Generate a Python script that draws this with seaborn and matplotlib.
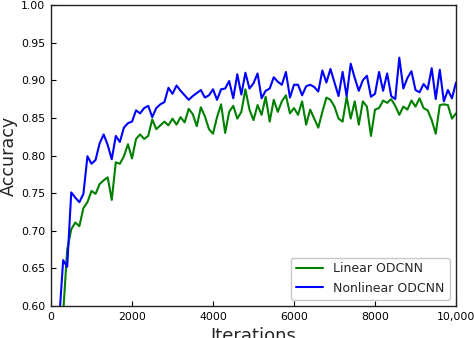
import matplotlib
matplotlib.use("Agg")
import matplotlib.pyplot as plt
import seaborn as sns
import pandas as pd

iterations = [200, 300, 400, 500, 600, 700, 800, 900, 1000, 1100, 1200, 1300, 1400, 1500,
              1600, 1700, 1800, 1900, 2000, 2100, 2200, 2300, 2400, 2500, 2600, 2700, 2800,
              2900, 3000, 3100, 3200, 3300, 3400, 3500, 3600, 3700, 3800, 3900, 4000, 4100,
              4200, 4300, 4400, 4500, 4600, 4700, 4800, 4900, 5000, 5100, 5200, 5300, 5400,
              5500, 5600, 5700, 5800, 5900, 6000, 6100, 6200, 6300, 6400, 6500, 6600, 6700,
              6800, 6900, 7000, 7100, 7200, 7300, 7400, 7500, 7600, 7700, 7800, 7900, 8000,
              8100, 8200, 8300, 8400, 8500, 8600, 8700, 8800, 8900, 9000, 9100, 9200, 9300,
              9400, 9500, 9600, 9700, 9800, 9900, 10000]

linear_acc = [0.550, 0.590, 0.675, 0.702, 0.711, 0.706, 0.730, 0.738, 0.753, 0.749, 0.762,
              0.767, 0.771, 0.741, 0.791, 0.789, 0.799, 0.815, 0.796, 0.822, 0.828, 0.822,
              0.826, 0.848, 0.835, 0.840, 0.845, 0.840, 0.849, 0.841, 0.851, 0.844, 0.862,
              0.855, 0.839, 0.864, 0.852, 0.835, 0.829, 0.851, 0.868, 0.830, 0.858, 0.866,
              0.849, 0.858, 0.888, 0.861, 0.847, 0.867, 0.854, 0.878, 0.845, 0.874, 0.858,
              0.872, 0.880, 0.856, 0.863, 0.854, 0.872, 0.841, 0.861, 0.849, 0.837, 0.858,
              0.877, 0.874, 0.865, 0.849, 0.845, 0.878, 0.849, 0.872, 0.841, 0.872, 0.865,
              0.826, 0.861, 0.863, 0.873, 0.870, 0.875, 0.866, 0.854, 0.865, 0.861, 0.873,
              0.865, 0.876, 0.863, 0.860, 0.847, 0.829, 0.867, 0.868, 0.867, 0.849, 0.856]

nonlinear_acc = [0.580, 0.661, 0.652, 0.751, 0.744, 0.738, 0.749, 0.799, 0.789, 0.794, 0.816,
                 0.828, 0.814, 0.795, 0.826, 0.818, 0.837, 0.843, 0.845, 0.860, 0.856, 0.863,
                 0.866, 0.851, 0.863, 0.868, 0.871, 0.890, 0.882, 0.893, 0.886, 0.880, 0.874,
                 0.879, 0.883, 0.887, 0.877, 0.880, 0.888, 0.874, 0.888, 0.889, 0.899, 0.876,
                 0.908, 0.881, 0.910, 0.889, 0.896, 0.909, 0.876, 0.886, 0.889, 0.904, 0.898,
                 0.894, 0.911, 0.877, 0.894, 0.894, 0.880, 0.892, 0.894, 0.891, 0.885, 0.913,
                 0.897, 0.915, 0.897, 0.879, 0.911, 0.879, 0.922, 0.903, 0.886, 0.900, 0.906,
                 0.878, 0.882, 0.911, 0.886, 0.909, 0.879, 0.875, 0.930, 0.889, 0.903, 0.912,
                 0.887, 0.884, 0.895, 0.888, 0.916, 0.875, 0.914, 0.872, 0.887, 0.876, 0.897]

series_names = ["Linear ODCNN", "Nonlinear ODCNN"]
x_ticks = [0, 2000, 4000, 6000, 8000, 10000]
x_tick_labels = ["0", "2000", "4000", "6000", "8000", "10,000"]
y_ticks = [0.60, 0.65, 0.70, 0.75, 0.80, 0.85, 0.90, 0.95, 1.00]
y_tick_labels = ["0.60", "0.65", "0.70", "0.75", "0.80", "0.85", "0.90", "0.95", "1.00"]

df = pd.concat([
    pd.DataFrame({"Iterations": iterations, "Accuracy": linear_acc, "Model": series_names[0]}),
    pd.DataFrame({"Iterations": iterations, "Accuracy": nonlinear_acc, "Model": series_names[1]}),
])

sns.set_style("white")
plt.rcParams["font.family"] = ["DejaVu Sans"]

fig = plt.figure(figsize=(4.74, 3.38), dpi=100)
ax = fig.add_axes([51 / 474, 32 / 338, 405 / 474, 301 / 338])

sns.lineplot(data=df, x="Iterations", y="Accuracy", hue="Model",
             palette={series_names[0]: "green", series_names[1]: "blue"},
             linewidth=1.5, ax=ax)

ax.set_xlim(0, 10000)
ax.set_ylim(0.60, 1.00)
ax.set_xticks(x_ticks)
ax.set_xticklabels(x_tick_labels)
ax.set_yticks(y_ticks)
ax.set_yticklabels(y_tick_labels)
ax.tick_params(direction="in", length=3.5, width=0.8, labelsize=7.8, colors="black",
               bottom=True, left=True, top=False, right=False, pad=4)
for s in ax.spines.values():
    s.set_color("#222222")
    s.set_linewidth(1.0)
    s.set_visible(True)

ax.set_xlabel("Iterations", fontsize=13, labelpad=4)
ax.set_ylabel("Accuracy", fontsize=12.6, labelpad=2.5)

handles, labels = ax.get_legend_handles_labels()
ax.legend(handles, labels, loc="lower right", fontsize=9, frameon=True,
          fancybox=True, edgecolor="#bbbbbb", framealpha=0.8, handlelength=2.2,
          borderaxespad=0.5)

fig.savefig("out.png", dpi=100)
